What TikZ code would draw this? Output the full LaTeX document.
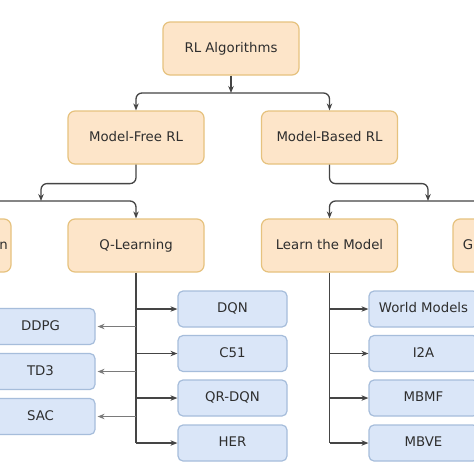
\documentclass[tikz,border=0pt]{standalone}
\usepackage{fontspec}
\setmainfont{DejaVu Sans}
\usetikzlibrary{arrows.meta,calc}
\definecolor{ofill}{HTML}{FDE5C9}
\definecolor{ostroke}{HTML}{E6C27E}
\definecolor{bfill}{HTML}{DAE6F8}
\definecolor{bstroke}{HTML}{A6BDDB}
\definecolor{linec}{HTML}{454545}
\definecolor{linel}{HTML}{7A7A7A}
\definecolor{txtc}{HTML}{2E2E2E}
\begin{document}
\begin{tikzpicture}[x=1pt,y=-1pt,
  lbl/.style={text=txtc, font=\fontsize{13.3}{16}\selectfont, text height=9.6pt, text depth=2.6pt, inner sep=0pt},
  box/.style={lbl, line width=1.2pt},
  obox/.style={box, rounded corners=7pt, fill=ofill, draw=ostroke, minimum width=136pt, minimum height=53pt},
  bbox/.style={box, rounded corners=5pt, fill=bfill, draw=bstroke, minimum width=109pt, minimum height=36pt},
  conn/.style={draw=linec, line width=1.3pt},
  rconn/.style={conn, rounded corners=6pt},
  tipd/.style={-{Stealth[length=7pt,width=5.5pt]}},
  tipb/.style={{Stealth[length=7pt,width=5.5pt]}-{Stealth[length=7pt,width=5.5pt]}},
  lconn/.style={draw=linel, line width=1.2pt, -{Stealth[length=7pt,width=5.5pt]}, shorten >=2pt}
]
\useasboundingbox (0,0) rectangle (474,474);
\clip (0,0) rectangle (474,474);
\fill[white] (0,0) rectangle (474,474);

% orange nodes
\node[obox] (rl) at (231,48.5) {RL Algorithms};
\node[obox] (mf) at (136,137.5) {Model-Free RL};
\node[obox] (mb) at (329.5,137.5) {Model-Based RL};
\node[obox] (po) at (-57,245.5) {};
\node[lbl, anchor=east] (pot) at (8,245.5) {n};
\node[obox] (ql) at (136,245.5) {Q-Learning};
\node[obox] (lm) at (329.5,245.5) {Learn the Model};
\node[obox] (gm) at (521,245.5) {};
\node[lbl, anchor=east] (gmt) at (473.5,245.5) {G};

% blue nodes
\node[bbox] (ddpg) at (40.5,326.5) {DDPG};
\node[bbox] (td3) at (40.5,371.5) {TD3};
\node[bbox] (sac) at (40.5,416.5) {SAC};
\node[bbox] (dqn) at (232.5,309) {DQN};
\node[bbox] (c51) at (232.5,353.5) {C51};
\node[bbox] (qrdqn) at (232.5,398) {QR-DQN};
\node[bbox] (her) at (232.5,443) {HER};
\node[bbox] (wm) at (423.5,309) {World Models};
\node[bbox] (i2a) at (423.5,353.5) {I2A};
\node[bbox] (mbmf) at (423.5,398) {MBMF};
\node[bbox] (mbve) at (423.5,443) {MBVE};

% junctions
\coordinate (j1) at (231,93);
\coordinate (j2) at (41,201);
\coordinate (j3) at (428,201);

% level 1
\draw[conn, tipd] (rl.south) -- (j1);
\draw[rconn, tipb] (mf.north) |- (j1) -| (mb.north);

% level 2
\draw[rconn, tipd] (mf.south) -- ++(0,19) -| (j2);
\draw[rconn, tipb] (po.north) |- (j2) -| (ql.north);
\draw[rconn, tipd] (mb.south) -- ++(0,19) -| (j3);
\draw[rconn, tipb] (lm.north) |- (j3) -| (gm.north);

% Q-Learning children
\draw[conn] (ql.south) -- (ql.south |- her.west);
\foreach \n in {dqn,c51,qrdqn,her}{
  \draw[conn, tipd] (ql.south |- \n.west) -- (\n.west);
}
\foreach \n in {ddpg,td3,sac}{
  \draw[lconn] (ql.south |- \n.east) -- (\n.east);
}

% Learn the Model children
\draw[conn] (lm.south) -- (lm.south |- mbve.west);
\foreach \n in {wm,i2a,mbmf,mbve}{
  \draw[conn, tipd] (lm.south |- \n.west) -- (\n.west);
}
\end{tikzpicture}
\end{document}
